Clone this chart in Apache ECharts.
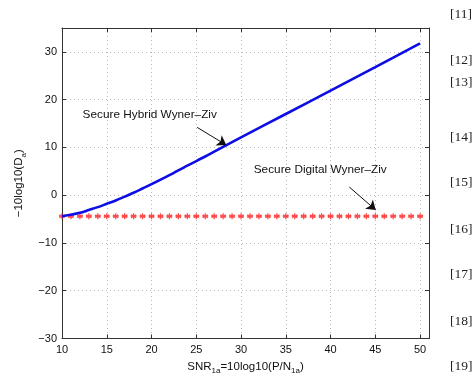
<!DOCTYPE html>
<html>
<head>
<meta charset="utf-8">
<script src="https://cdn.jsdelivr.net/npm/echarts@6/dist/echarts.min.js"></script>
<style>html,body{margin:0;padding:0;background:#fff;}#c{width:474px;height:381px;}</style>
</head>
<body>
<div id="c"></div>
<script>
// Secure Hybrid Wyner-Ziv curve
var hybridSNR = [10, 11, 12, 13, 14, 15, 16, 17, 18, 19, 20, 22, 24, 26, 28, 30, 35, 40, 45, 50];
var hybridD   = [-4.4, -4.1, -3.7, -3.1, -2.5, -1.8, -1.1, -0.3, 0.5, 1.4, 2.3, 4.2, 6.2, 8.1, 10.1, 12.1, 17.0, 21.9, 26.8, 31.8];
// Secure Digital Wyner-Ziv points
var digitalSNR = [10, 11, 12, 13, 14, 15, 16, 17, 18, 19, 20, 21, 22, 23, 24, 25, 26, 27, 28, 29, 30,
                  31, 32, 33, 34, 35, 36, 37, 38, 39, 40, 41, 42, 43, 44, 45, 46, 47, 48, 49, 50];
var digitalD   = [-4.4, -4.4, -4.4, -4.4, -4.4, -4.4, -4.4, -4.4, -4.4, -4.4, -4.4, -4.4, -4.4, -4.4,
                  -4.4, -4.4, -4.4, -4.4, -4.4, -4.4, -4.4, -4.4, -4.4, -4.4, -4.4, -4.4, -4.4, -4.4,
                  -4.4, -4.4, -4.4, -4.4, -4.4, -4.4, -4.4, -4.4, -4.4, -4.4, -4.4, -4.4, -4.4];
var xTicks = [10, 15, 20, 25, 30, 35, 40, 45, 50];
var yTicks = [-30, -20, -10, 0, 10, 20, 30];
// annotations: [text position], [arrow start], [arrow tip]
var hybridLabel = {text: 'Secure Hybrid Wyner\u2013Ziv', at: [19.8, 16.8], from: [25.1, 14.2], to: [28.35, 10.5]};
var digitalLabel = {text: 'Secure Digital Wyner\u2013Ziv', at: [38.85, 5.35], from: [42.1, 1.7], to: [45.05, -3.1]};
var refs = ['[11]', '[12]', '[13]', '[14]', '[15]', '[16]', '[17]', '[18]', '[19]'];
var refY = [15, 61, 83, 138, 183, 230, 275, 322, 367];

var FONT = '"Liberation Sans", Arial, Helvetica, sans-serif';
var chart = echarts.init(document.getElementById('c'), null, {renderer: 'canvas'});

function pair(xs, ys) { return xs.map(function (x, i) { return [x, ys[i]]; }); }
function fmtNum(v, list) {
  if (list.indexOf(v) < 0) return '';
  return String(v).replace('-', '\u2212');
}

var asterisk = 'path://M5,0 L5,10 M0.67,2.5 L9.33,7.5 M0.67,7.5 L9.33,2.5 M0,5 L10,5';

var option = {
  backgroundColor: '#fff',
  animation: false,
  textStyle: {fontFamily: FONT},
  grid: {left: 62, right: 45, top: 28, bottom: 42.5, containLabel: false},
  xAxis: [{
    type: 'value', min: 10, max: 51, interval: 5,
    name: '{a|SNR}{s|1a}{a|=10log10(P/N}{s|1a}{a|)}',
    nameLocation: 'middle', nameGap: 14,
    nameTextStyle: {rich: {a: {fontSize: 11.5, color: '#111', fontFamily: FONT},
                           s: {fontSize: 8, color: '#111', fontFamily: FONT, padding: [9,0,0,0]}}},
    axisLine: {show: true, onZero: false, lineStyle: {color: '#333', width: 1}},
    axisTick: {show: true, inside: true, length: 4, lineStyle: {color: '#333'}},
    axisLabel: {margin: 6, fontSize: 11, color: '#111', fontFamily: FONT,
      formatter: function (v) { return fmtNum(v, xTicks); }},
    splitLine: {show: true, lineStyle: {color: '#b8b8b8', type: [1, 3], width: 1}}
  }, {
    type: 'value', min: 10, max: 51, interval: 5, position: 'top',
    axisLine: {show: true, onZero: false, lineStyle: {color: '#333', width: 1}},
    axisTick: {show: true, inside: true, length: 4, lineStyle: {color: '#333'}},
    axisLabel: {show: false}, splitLine: {show: false}
  }],
  yAxis: [{
    type: 'value', min: -30, max: 35, interval: 10,
    name: '{a|\u221210log10(D}{s|a}{a|)}',
    nameLocation: 'middle', nameGap: 31, nameRotate: 90,
    nameTextStyle: {rich: {a: {fontSize: 11.5, color: '#111', fontFamily: FONT},
                           s: {fontSize: 8, color: '#111', fontFamily: FONT, padding: [9,0,0,0]}}},
    axisLine: {show: true, onZero: false, lineStyle: {color: '#333', width: 1}},
    axisTick: {show: true, inside: true, length: 4, lineStyle: {color: '#333'}},
    axisLabel: {margin: 5, fontSize: 11, color: '#111', fontFamily: FONT,
      formatter: function (v) { return fmtNum(v, yTicks); }},
    splitLine: {show: true, lineStyle: {color: '#b8b8b8', type: [1, 3], width: 1}}
  }, {
    type: 'value', min: -30, max: 35, interval: 10, position: 'right',
    axisLine: {show: true, onZero: false, lineStyle: {color: '#333', width: 1}},
    axisTick: {show: true, inside: true, length: 4, lineStyle: {color: '#333'}},
    axisLabel: {show: false}, splitLine: {show: false}
  }],
  series: [{
    type: 'scatter', name: 'digital',
    data: pair(digitalSNR, digitalD),
    symbol: asterisk, symbolSize: 6,
    itemStyle: {color: 'rgba(0,0,0,0)', borderColor: '#ff1a1a', borderWidth: 1.3},
    z: 2
  }, {
    type: 'line', name: 'hybrid',
    data: pair(hybridSNR, hybridD),
    smooth: 0.3, showSymbol: false, symbol: 'none',
    lineStyle: {color: '#0d0de6', width: 2.6},
    z: 3,
    markLine: {
      silent: true, symbol: ['none', 'arrow'], symbolSize: 9,
      lineStyle: {color: '#111', width: 1, type: 'solid'},
      itemStyle: {color: '#111'},
      label: {show: false},
      data: [
        [{coord: hybridLabel.from}, {coord: hybridLabel.to}],
        [{coord: digitalLabel.from}, {coord: digitalLabel.to}]
      ]
    },
    markPoint: {
      silent: true, symbol: 'circle', symbolSize: 1,
      itemStyle: {color: 'rgba(0,0,0,0)'},
      label: {show: true, position: 'inside', color: '#111', fontSize: 11.8, fontFamily: FONT,
        formatter: function (p) { return p.name; }},
      data: [
        {name: hybridLabel.text, coord: hybridLabel.at},
        {name: digitalLabel.text, coord: digitalLabel.at}
      ]
    }
  }],
  graphic: refs.map(function (t, i) {
    return {type: 'text', left: 450, top: refY[i] - 8,
      style: {text: t, fontFamily: '"Liberation Serif", "Times New Roman", serif', fontSize: 13.5, fill: '#222'}};
  })
};
chart.setOption(option);
</script>
</body>
</html>
